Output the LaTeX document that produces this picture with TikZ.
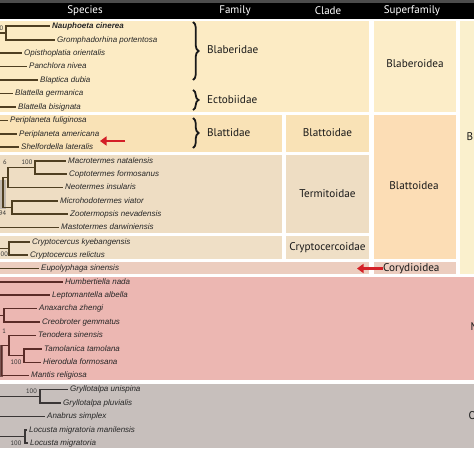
\documentclass[tikz,border=0pt]{standalone}
\usepackage{fontspec}
\setmainfont{PT Sans}
\newfontfamily\spfont{Liberation Sans}
\usetikzlibrary{arrows.meta,decorations.pathreplacing}
\definecolor{bOne}{HTML}{FCEBC4}
\definecolor{bTwo}{HTML}{F9E2B6}
\definecolor{bThree}{HTML}{EEDDC3}
\definecolor{bFour}{HTML}{EFDFC6}
\definecolor{bFive}{HTML}{ECCDBF}
\definecolor{sOne}{HTML}{FCEDC8}
\definecolor{sTwo}{HTML}{FCDDB5}
\definecolor{oOne}{HTML}{FAF0CD}
\definecolor{pinkb}{HTML}{ECB7B2}
\definecolor{grayb}{HTML}{C7BFBC}
\definecolor{treeA}{HTML}{4F3F22}
\definecolor{treeB}{HTML}{5A2B27}
\definecolor{treeC}{HTML}{3A3636}
\definecolor{arrred}{HTML}{D42027}
\definecolor{shade}{HTML}{9A8A7A}
\begin{document}
\begin{tikzpicture}[x=1pt,y=-1pt,
  sp/.style={anchor=west, inner xsep=2.5pt, inner ysep=0pt,
    font=\spfont\itshape\fontsize{8}{9}\selectfont, text=black!85,
    text height=5.8pt, text depth=1.6pt},
  lab/.style={font=\fontsize{11.2}{13}\selectfont, text=black!90, inner sep=0pt},
  hdr/.style={font=\fontsize{11}{13}\selectfont, text=white, inner sep=0pt},
  bs/.style={font=\fontsize{6.5}{7}\selectfont, text=black!80, inner sep=0pt},
  br/.style={line width=1.1pt},
  brc/.style={decorate, decoration={brace, amplitude=5.5pt}, line width=1.8pt, draw=black!90},
  redarr/.style={draw=arrred, line width=2.6pt, -{Triangle[width=9pt,length=6.5pt]}}]
\useasboundingbox (0,0) rectangle (474,474);
\clip (0,0) rectangle (474,474);
% header
\fill[black] (0,0) rectangle (474,19);
\fill[black!70] (0,0) rectangle (474,3);
\node[hdr] (hs) at (85,11) {Species};
\node[hdr] (hf) at (235,11) {Family};
\node[hdr] (hc) at (328,11) {Clade};
\node[hdr] (hsf) at (412,11) {Superfamily};
% background blocks
\fill[bOne] (0,21) rectangle (369,112);
\fill[bTwo] (0,115) rectangle (282,152);
\fill[bTwo] (286,115) rectangle (369,152);
\fill[bThree] (0,155) rectangle (282,233);
\fill[bThree] (286,155) rectangle (369,233);
\fill[bFour] (0,236) rectangle (282,259);
\fill[bFour] (286,236) rectangle (369,259);
\fill[bFive] (0,262) rectangle (369,274);
\fill[sOne] (374,21) rectangle (456,112);
\fill[sTwo] (374,115) rectangle (456,259);
\fill[bFive] (374,262) rectangle (456,274);
\fill[oOne] (460,21) rectangle (474,274);
\fill[pinkb] (0,277) rectangle (474,380);
\fill[grayb] (0,384) rectangle (474,448);
% labels
\node[lab, anchor=west] (fBla) at (207,50) {Blaberidae};
\node[lab, anchor=west] (fEct) at (207,100) {Ectobiidae};
\node[lab, anchor=west] (fBlt) at (207,133) {Blattidae};
\node[lab] (cBlt) at (327.5,133) {Blattoidae};
\node[lab] (cTer) at (327.5,194) {Termitoidae};
\node[lab] (cCry) at (327.5,248) {Cryptocercoidae};
\node[lab] (sBla) at (415,64) {Blaberoidea};
\node[lab] (sBlt) at (414,186) {Blattoidea};
\node[lab, anchor=west] (sCor) at (383,268.5) {Corydioidea};
\node[lab, anchor=west] (oBlt) at (466.5,137) {Blattodea};
\node[lab, anchor=west] (oMan) at (470.5,327) {Mantodea};
\node[lab, anchor=west] (oOrt) at (468.5,417) {Orthoptera};
% braces
\draw[brc] (193,22) -- (193,80);
\draw[brc] (193,90) -- (193,110);
\draw[brc] (193,118) -- (193,148);
% species
\node[sp] (n1) at (49.5,26) {\bfseries Nauphoeta cinerea};
\node[sp] (n2) at (54.5,40) {Gromphadorhina portentosa};
\node[sp] (n3) at (21.5,53) {Opisthoplatia orientalis};
\node[sp] (n4) at (26.5,66.5) {Panchlora nivea};
\node[sp] (n5) at (37.5,80) {Blaptica dubia};
\node[sp] (n6) at (12.5,93.5) {Blattella germanica};
\node[sp] (n7) at (15.5,107) {Blattella bisignata};
\node[sp] (n8) at (7.5,120.5) {Periplaneta fuliginosa};
\node[sp] (n9) at (16.5,134) {Periplaneta americana};
\node[sp] (n10) at (18.5,147) {Shelfordella lateralis};
\node[sp] (n11) at (65.5,161) {Macrotermes natalensis};
\node[sp] (n12) at (66.5,174) {Coptotermes formosanus};
\node[sp] (n13) at (62.5,187.5) {Neotermes insularis};
\node[sp] (n14) at (57.5,201) {Microhodotermes viator};
\node[sp] (n15) at (67.5,214) {Zootermopsis nevadensis};
\node[sp] (n16) at (58.5,227.5) {Mastotermes darwiniensis};
\node[sp] (n17) at (29.5,242) {Cryptocercus kyebangensis};
\node[sp] (n18) at (27.5,255) {Cryptocercus relictus};
\node[sp] (n19) at (38.5,268.5) {Eupolyphaga sinensis};
\node[sp] (n20) at (62.5,282) {Humbertiella nada};
\node[sp] (n21) at (49.5,295) {Leptomantella albella};
\node[sp] (n22) at (36.5,308.5) {Anaxarcha zhengi};
\node[sp] (n23) at (39.5,322) {Creobroter gemmatus};
\node[sp] (n24) at (35.5,335.5) {Tenodera sinensis};
\node[sp] (n25) at (41.5,349) {Tamolanica tamolana};
\node[sp] (n26) at (40.5,362.5) {Hierodula formosana};
\node[sp] (n27) at (28.5,375.5) {Mantis religiosa};
\node[sp] (n28) at (67.5,389.5) {Gryllotalpa unispina};
\node[sp] (n29) at (60.5,403) {Gryllotalpa pluvialis};
\node[sp] (n30) at (44.5,416.5) {Anabrus simplex};
\node[sp] (n31) at (26.5,430) {Locusta migratoria manilensis};
\node[sp] (n32) at (27.5,443) {Locusta migratoria};
% left-edge coordinates
\coordinate (r1) at (0,33);
\coordinate (e3) at (0,53);
\coordinate (e4) at (0,66.5);
\coordinate (e5) at (0,80);
\coordinate (e6) at (0,93.5);
\coordinate (e7) at (0,107);
\coordinate (e8) at (0,120.5);
\coordinate (e9) at (0,134);
\coordinate (e10) at (0,147);
\coordinate (e16) at (0,227.5);
\coordinate (rK) at (0,248.5);
\coordinate (e19) at (0,268.5);
\coordinate (e20) at (0,282);
\coordinate (e21) at (0,295);
\coordinate (rAn) at (0,315.25);
\coordinate (e27) at (0,375.5);
\coordinate (rG) at (0,396.25);
\coordinate (e30) at (0,416.5);
\coordinate (rL) at (0,436.5);
% internal nodes
\coordinate (p1) at (6,33);
\coordinate (pB) at (35,167.5);
\coordinate (pA) at (8,177.5);
\coordinate (pC) at (12,207.5);
\coordinate (pT) at (3,192.5);
\coordinate (pK) at (9,248.5);
\coordinate (pAn) at (4,315.25);
\coordinate (pTH) at (24,355.75);
\coordinate (pTe) at (9,345.6);
\coordinate (pM) at (1.5,360.5);
\coordinate (pG) at (40,396.25);
\coordinate (pL) at (25,436.5);
% tree: cockroach/termite part
\begin{scope}[draw=treeA]
\draw[br] (r1) -- (p1);
\draw[br] (p1) |- (n1.west);
\draw[br] (p1) |- (n2.west);
\draw[br] (e3) -- (n3.west);
\draw[br] (e4) -- (n4.west);
\draw[br] (e5) -- (n5.west);
\draw[br] (e6) -- (n6.west);
\draw[br] (e7) -- (n7.west);
\draw[br] (e8) -- (n8.west);
\draw[br] (e9) -- (n9.west);
\draw[br] (e10) -- (n10.west);
\fill[shade!60] (0,180) rectangle (6,209);
\draw[br] (pT) |- (pA);
\draw[br] (pT) |- (pC);
\draw[br] (pA) |- (pB);
\draw[br] (pA) |- (n13.west);
\draw[br] (pB) |- (n11.west);
\draw[br] (pB) |- (n12.west);
\draw[br] (pC) |- (n14.west);
\draw[br] (pC) |- (n15.west);
\draw[br] (e16) -- (n16.west);
\draw[br] (rK) -- (pK);
\draw[br] (pK) |- (n17.west);
\draw[br] (pK) |- (n18.west);
\draw[br] (e19) -- (n19.west);
\end{scope}
\node[bs] (b1) at (1.5,28) {0};
\node[bs] (b2) at (5,162) {6};
\node[bs] (b3) at (27,162) {100};
\node[bs, anchor=west] (b4) at (-1,213) {94};
\node[bs, anchor=east] (b5) at (8,254.5) {00};
% tree: mantis part
\begin{scope}[draw=treeB]
\draw[br] (e20) -- (n20.west);
\draw[br] (e21) -- (n21.west);
\draw[br] (rAn) -- (pAn);
\draw[br] (pAn) |- (n22.west);
\draw[br] (pAn) |- (n23.west);
\fill[treeB!80] (0,345) rectangle (3,376.5);
\draw[br] (pM) |- (pTe);
\draw[br] (pM) |- (n27.west);
\draw[br] (pTe) |- (n24.west);
\draw[br] (pTe) |- (pTH);
\draw[br] (pTH) |- (n25.west);
\draw[br] (pTH) |- (n26.west);
\end{scope}
\node[bs, anchor=east] (b6) at (6,331) {1};
\node[bs] (b7) at (16,362.5) {100};
% tree: orthoptera part
\begin{scope}[draw=treeC]
\draw[br] (rG) -- (pG);
\draw[br] (pG) |- (n28.west);
\draw[br] (pG) |- (n29.west);
\draw[br] (e30) -- (n30.west);
\draw[br] (rL) -- (pL);
\draw[br] (pL) |- (n31.west);
\draw[br] (pL) |- (n32.west);
\end{scope}
\node[bs] (b8) at (31.5,391.5) {100};
\node[bs] (b9) at (16,443) {100};
% red arrows
\coordinate (a1s) at (125,141);
\coordinate (a1e) at (100,141);
\coordinate (a2s) at (382.5,268.5);
\coordinate (a2e) at (357,268.5);
\draw[redarr] (a1s) -- (a1e);
\draw[redarr] (a2s) -- (a2e);
\end{tikzpicture}
\end{document}
